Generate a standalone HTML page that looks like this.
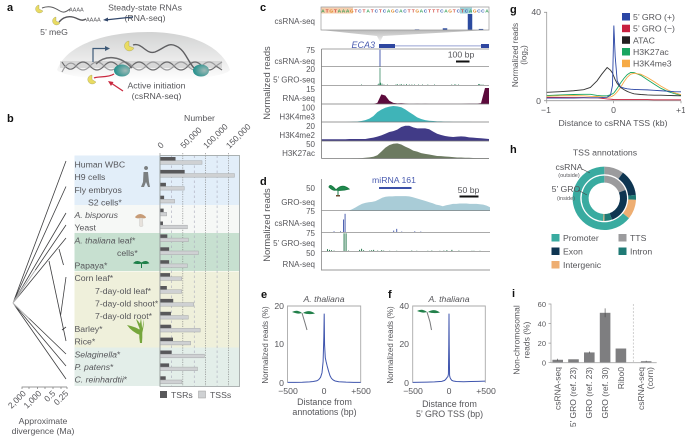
<!DOCTYPE html>
<html lang="en">
<head>
<meta charset="utf-8">
<title>Figure: csRNA-seq TSS panels</title>
<style>
html,body{margin:0;padding:0;background:#fff;width:685px;height:436px;overflow:hidden}
svg{display:block}
text{font-family:"Liberation Sans",sans-serif;fill:#56565a;font-size:8px}
.ltr{font-weight:bold;font-size:11px;fill:#111}
.lab{font-size:8.7px}
.trk{font-size:8px}
.t7{font-size:7.5px}
.rot{font-size:8.5px}
.sm{font-size:5.5px}
.end{text-anchor:end}
.mid{text-anchor:middle}
.it{font-style:italic}
</style>
</head>
<body>
<svg id="fig" xmlns="http://www.w3.org/2000/svg" width="685" height="436" viewBox="0 0 685 436">
<defs>
<linearGradient id="domeGrad" x1="0" y1="0" x2="0" y2="1"><stop offset="0" stop-color="#d2d3d3"/><stop offset=".65" stop-color="#eeeeee"/><stop offset="1" stop-color="#ffffff"/></linearGradient>
<linearGradient id="funnelGrad" x1="0" y1="0" x2="0" y2="1"><stop offset="0" stop-color="#b9b9b9"/><stop offset="1" stop-color="#f4f4f4"/></linearGradient>
<radialGradient id="polGrad" cx=".7" cy=".5" r=".7"><stop offset="0" stop-color="#9fb9b6"/><stop offset="1" stop-color="#1f8f8b"/></radialGradient>
</defs>

<!-- Panel a -->
<g>
<text class="ltr" x="7" y="11">a</text>
<path d="M57,70 C66,45 105,32 148,32 C190,32 222,46 230,70 C220,84 70,84 57,70Z" fill="url(#domeGrad)"/>
<rect x="60" y="61" width="162" height="7" fill="#c8c8c8" opacity=".6"/>
<path d="M62,62 Q69,74 76,66 T90,66 T104,66 T118,66 T132,66 T146,66 T160,66 T174,66 T188,66 T202,66 T216,66 L222,70" fill="none" stroke="#6a6a6c" stroke-width="1.2"/>
<path d="M62,72 Q69,58 76,66 T90,66 T104,66 T118,66 T132,66 T146,66 T160,66 T174,66 T188,66 T202,66 T216,66 L222,62" fill="none" stroke="#9a9a9c" stroke-width="1.2"/>
<path d="M42,8 C50,5 55,8 60,11 C65,14 68,10 70,9" fill="none" stroke="#5a5a5c" stroke-width="1"/>
<path d="M59,22 C65,15 72,16 78,19 C82,21 84,20 86,19" fill="none" stroke="#55555a" stroke-width="1.4"/>
<path d="M39,5 A4,4 0 1 0 43,11 L39,9Z" fill="#e9db62" stroke="#8a8a50" stroke-width=".3"/>
<path d="M56,17 A4,4 0 1 0 60,23 L56,21Z" fill="#e9db62" stroke="#8a8a50" stroke-width=".3"/>
<text x="69" y="11.5" style="font-size:5.5px">AAAA</text>
<text x="86" y="21.5" style="font-size:5.5px">AAAA</text>
<text x="54" y="35" class="mid lab">5’ meG</text>
<text x="145" y="10.5" class="mid lab">Steady-state RNAs</text>
<text x="145" y="21" class="mid lab">(RNA-seq)</text>
<path d="M133,17 L105,20" stroke="#33486b" stroke-width="1.2" fill="none"/>
<path d="M103,20 L108,17.5 L108,21.5Z" fill="#33486b"/>
<path d="M93,62 L93,48.5 L107,48.5" stroke="#3e5a78" stroke-width="1.2" fill="none"/>
<path d="M110,48.5 L105,46 L105,51Z" fill="#3e5a78"/>
<path d="M96,64 C105,55 120,55 132,68" fill="none" stroke="#6a6a6c" stroke-width="1.5"/>
<path d="M133,45 C142,42 146,55 155,52 C165,48 168,42 176,46 C185,50 187,60 194,68" fill="none" stroke="#5f5f62" stroke-width="1.4"/>
<path d="M129,41 A5,5 0 1 0 134,48 L129,46Z" fill="#e9db62" stroke="#8a8a50" stroke-width=".3"/>
<ellipse cx="122" cy="70.5" rx="8" ry="6" fill="url(#polGrad)"/>
<ellipse cx="201" cy="70.5" rx="8" ry="6" fill="url(#polGrad)"/>
<path d="M94,78 C98,76 108,78 114,74" fill="none" stroke="#c9283f" stroke-width="1.2"/>
<path d="M92,75 A4.5,4.5 0 1 0 96,82 L92,79.5Z" fill="#e9db62" stroke="#8a8a50" stroke-width=".3"/>
<path d="M123,91 L111,83" stroke="#c9283f" stroke-width="1.2" fill="none"/>
<path d="M108,81 L113.5,82 L111,86Z" fill="#c9283f"/>
<text x="156.5" y="88.5" class="mid lab">Active initiation</text>
<text x="156.5" y="99" class="mid lab">(csRNA-seq)</text>
</g>

<!-- Panel b static -->
<g>
<text class="ltr" x="7" y="122">b</text>
<text x="199.5" y="121" class="mid lab">Number</text>
<rect x="74.5" y="155.5" width="165" height="49.5" fill="#e2eef9"/>
<rect x="74.5" y="205" width="165" height="28" fill="#f6f8f6"/>
<rect x="74.5" y="233" width="165" height="38" fill="#c7e0d0"/>
<rect x="74.5" y="271.5" width="165" height="76" fill="#eff0db"/>
<rect x="74.5" y="347.5" width="165" height="38.5" fill="#e3eee9"/>
<g id="bGrid"></g>
<g id="bBars"></g>
<rect x="160" y="155.5" width="79.5" height="231" fill="none" stroke="#9aa0a0" stroke-width=".8"/>
<g>
<text class="lab" x="74.5" y="167.5">Human WBC</text>
<text class="lab" x="74.5" y="180">H9 cells</text>
<text class="lab" x="74.5" y="193">Fly embryos</text>
<text class="lab" x="88" y="205.5">S2 cells*</text>
<text class="lab it" x="74.5" y="218">A. bisporus</text>
<text class="lab" x="74.5" y="230.5">Yeast</text>
<text class="lab" x="74.5" y="243.5"><tspan font-style="italic">A. thaliana</tspan> leaf*</text>
<text class="lab" x="117" y="256">cells*</text>
<text class="lab" x="74.5" y="268.5">Papaya*</text>
<text class="lab" x="74.5" y="281">Corn leaf*</text>
<text class="lab" x="95" y="294">7-day-old leaf*</text>
<text class="lab" x="95" y="306.5">7-day-old shoot*</text>
<text class="lab" x="95" y="319">7-day-old root*</text>
<text class="lab" x="74.5" y="332">Barley*</text>
<text class="lab" x="74.5" y="344.5">Rice*</text>
<text class="lab it" x="74.5" y="357.5">Selaginella<tspan font-style="normal">*</tspan></text>
<text class="lab it" x="74.5" y="370">P. patens<tspan font-style="normal">*</tspan></text>
<text class="lab it" x="74.5" y="382.5">C. reinhardtii<tspan font-style="normal">*</tspan></text>
</g>
<path d="M146,170 a2,2 0 1 1 .1,0 M143.5,172 L148,172 L149,182 L150,187 L148,187 L146,182 L144,187 L141,187 L143,182Z" fill="#7b7f80"/>
<path d="M135,217 Q140,211 146,217 Q146,219 141,218 Q136,219 135,217Z" fill="#c79c77"/>
<path d="M139.5,218 L142.5,218 L143,226 Q141,227.5 139.5,226Z" fill="#e7e2dc" stroke="#bbb" stroke-width=".3"/>
<path d="M141.5,268 L141.5,263 M141.5,263 Q137,260 134,263 Q138,264 141.5,263 Q146,260 148.5,263 Q145,264 141.5,263" fill="#1f8a4d" stroke="#1a7a44" stroke-width="1"/>
<path d="M140,343 Q138,332 141,318 Q143,332 142,343Z M140,335 Q132,332 127,325 Q136,327 140,330Z M141,332 Q138,325 136,319 Q141,323 142,330Z M141,332 Q143,326 144,319 Q144,326 142,334Z" fill="#76a63c"/>
<path d="M66,161 L13,303 M66,186.5 L13,303 M66,213 L13,303 M66,225 L13,303 M66,238 L13,303 M59,249 L63.5,265 M49,261 L66,341 M66,277 L60.5,316 M66,327 L62,330 M66,354 L13,303 M66,366 L13,303 M66,379 L13,303" fill="none" stroke="#3e3e40" stroke-width=".8"/>
<path d="M13,303 L35,270" fill="none" stroke="#fff" stroke-width="2" opacity=".55"/>
<path d="M13,303 L30,318" fill="none" stroke="#fff" stroke-width="2" opacity=".55"/>
<path d="M22,389 L22,387 L67,387 M29,387 v2 M37.5,387 v2 M45,387 v2 M53,387 v2 M61,387 v2 M67,387 v2" fill="none" stroke="#777" stroke-width=".7"/>
<text transform="translate(26.5,394) rotate(-45)" class="end rot">2,000</text>
<text transform="translate(42,394) rotate(-45)" class="end rot">1,000</text>
<text transform="translate(56,394) rotate(-45)" class="end rot">0.5</text>
<text transform="translate(69,394) rotate(-45)" class="end rot">0.25</text>
<text x="43" y="424" class="mid lab">Approximate</text>
<text x="43" y="434" class="mid lab">divergence (Ma)</text>
<rect x="160" y="391" width="7" height="7" fill="#58585a"/>
<text x="171" y="398" class="lab">TSRs</text>
<rect x="198.5" y="391" width="7" height="7" fill="#cfd1d3" stroke="#999" stroke-width=".5"/>
<text x="210" y="398" class="lab">TSSs</text>
</g>

<!-- Panel c static -->
<g>
<text class="ltr" x="260" y="11">c</text>
<polygon points="321,30 489,30 383,36 380,42 377,36" fill="url(#funnelGrad)"/>
<rect x="321" y="7.5" width="32" height="6" fill="#f7cfae"/>
<rect x="460" y="7.5" width="12" height="6" fill="#9fd3d8"/>
<g id="seq"></g>
<g id="cZoom"></g>
<path d="M321,7 H489 V30 H321Z" fill="none" stroke="#999" stroke-width=".7"/>
<text x="315" y="24" class="end trk">csRNA-seq</text>
<text x="375" y="48" class="end it" style="font-size:9px;fill:#4a5cb0">ECA3</text>
<rect x="379" y="44" width="16" height="4" fill="#2f47a0"/>
<rect x="395" y="45.5" width="86" height=".8" fill="#7c8bc8"/>
<rect x="481" y="44" width="8" height="4" fill="#2f47a0"/>
<g id="cTracks"></g>
<path d="M321.5,49 V158.5" stroke="#777" stroke-width=".8" fill="none"/>
<path d="M321.5,49 H489" stroke="#888" stroke-width=".8" fill="none"/>
<text x="315" y="53" class="end trk">75</text>
<text x="315" y="72" class="end trk">20</text>
<text x="315" y="92" class="end trk">15</text>
<text x="315" y="110.5" class="end trk">100</text>
<text x="315" y="129" class="end trk">20</text>
<text x="315" y="147" class="end trk">50</text>
<text x="315" y="64" class="end trk">csRNA-seq</text>
<text x="315" y="82.5" class="end trk">5’ GRO-seq</text>
<text x="315" y="101" class="end trk">RNA-seq</text>
<text x="315" y="119.5" class="end trk">H3K4me3</text>
<text x="315" y="138" class="end trk">H3K4me2</text>
<text x="315" y="156" class="end trk">H3K27ac</text>
<text transform="translate(270,83) rotate(-90)" class="mid" style="font-size:9.4px">Normalized reads</text>
<text x="461" y="57.5" class="mid lab">100 bp</text>
<rect x="456" y="60.5" width="13.5" height="2" fill="#111"/>
</g>

<!-- Panel d static -->
<g>
<text class="ltr" x="260" y="185">d</text>
<text x="394" y="183" class="mid lab" style="fill:#4a5cb0">miRNA 161</text>
<rect x="379" y="187" width="32.5" height="2" fill="#3b50a8"/>
<text x="468.5" y="193" class="mid lab">50 bp</text>
<rect x="459.5" y="195.5" width="19" height="2" fill="#111"/>
<g id="dTracks"></g>
<path d="M321.5,179 V270.5" stroke="#888" stroke-width=".8" fill="none"/>
<path d="M336,190 Q330,183 329,187 Q333,191 336,190 M336,190 Q342,183 349,189 Q342,191 336,190 M338,190 V196" fill="#1f8a4d" stroke="#1a7a44" stroke-width="1"/>
<rect x="336" y="195" width="4" height="1.5" fill="#6d4b30"/>
<text x="315" y="191" class="end trk">50</text>
<text x="315" y="205" class="end trk">GRO-seq</text>
<text x="315" y="214" class="end trk">75</text>
<text x="315" y="226" class="end trk">csRNA-seq</text>
<text x="315" y="236" class="end trk">75</text>
<text x="315" y="246" class="end trk">5’ GRO-seq</text>
<text x="315" y="256" class="end trk">50</text>
<text x="315" y="267" class="end trk">RNA-seq</text>
<text transform="translate(270,225) rotate(-90)" class="mid" style="font-size:9.4px">Normalized reads</text>
</g>

<!-- Panels e f -->
<g>
<text class="ltr" x="261" y="298">e</text>
<text x="324" y="302" class="mid it lab">A. thaliana</text>
<path d="M287.5,382.7 V306 H360.7 V382.7" fill="none" stroke="#aaa" stroke-width=".9"/>
<path d="M292,312 Q297,309 302,313 Q298,314.5 292,312Z M303,313 Q309,309 315,313.5 Q309,315 303,313Z" fill="#22804a"/>
<path d="M302,313 L305,323 L307,330" fill="none" stroke="#77787a" stroke-width="1"/>
<g id="ePlot"></g>
<text x="284" y="309" class="end lab">20</text>
<text x="284" y="347" class="end lab">10</text>
<text x="284" y="386" class="end lab">0</text>
<text x="288" y="394" class="mid lab">−500</text>
<text x="324" y="394" class="mid lab">0</text>
<text x="361" y="394" class="mid lab">+500</text>
<text x="324.5" y="405" class="mid" style="font-size:8.9px">Distance from</text>
<text x="324.5" y="415" class="mid" style="font-size:8.9px">annotations (bp)</text>
<text transform="translate(268,345) rotate(-90)" class="mid" style="font-size:8px">Normalized reads (%)</text>
</g>
<g>
<text class="ltr" x="388" y="298">f</text>
<text x="449" y="302" class="mid it lab">A. thaliana</text>
<path d="M412.7,382.7 V306 H485.3 V382.7" fill="none" stroke="#aaa" stroke-width=".9"/>
<path d="M417,311 Q422,308 427,312 Q423,313.5 417,311Z M428,312 Q434,308 440,312.5 Q434,314 428,312Z" fill="#22804a"/>
<path d="M427,312 L430,322 L431.5,330" fill="none" stroke="#77787a" stroke-width="1"/>
<g id="fPlot"></g>
<text x="409" y="309" class="end lab">40</text>
<text x="409" y="347" class="end lab">20</text>
<text x="409" y="386" class="end lab">0</text>
<text x="413" y="394" class="mid lab">−500</text>
<text x="449" y="394" class="mid lab">0</text>
<text x="486" y="394" class="mid lab">+500</text>
<text x="449.5" y="407" class="mid" style="font-size:8.9px">Distance from</text>
<text x="449.5" y="417" class="mid" style="font-size:8.9px">5’ GRO TSS (bp)</text>
<text transform="translate(393,345) rotate(-90)" class="mid" style="font-size:8px">Normalized reads (%)</text>
</g>

<!-- Panel g -->
<g>
<text class="ltr" x="510" y="13">g</text>
<path d="M544,12.3 H546.7 V100.7 H681 M613.5,100.7 v2.5 M546.7,100.7 v2.5 M681,100.7 v2.5 M544,100.7 h2.7" fill="none" stroke="#999" stroke-width=".8"/>
<g id="gPlot"></g>
<text x="541" y="15" class="end lab">40</text>
<text x="541" y="104" class="end lab">0</text>
<text x="546" y="113" class="mid lab">−1</text>
<text x="613.5" y="113" class="mid lab">0</text>
<text x="681" y="113" class="mid lab">+1</text>
<text x="613" y="126" class="mid lab">Distance to csRNA TSS (kb)</text>
<text transform="translate(518,55) rotate(-90)" class="mid" style="font-size:8.2px">Normalized reads</text>
<text transform="translate(526.5,55) rotate(-90)" class="mid" style="font-size:8.2px">(log<tspan style="font-size:5.5px" dy="1.5">2</tspan><tspan dy="-1.5">)</tspan></text>
<g>
<rect x="622" y="13" width="8" height="7.5" fill="#2b46a5"/>
<text x="633" y="20" class="lab">5’ GRO (+)</text>
<rect x="622" y="24.7" width="8" height="7.5" fill="#c8203f"/>
<text x="633" y="31.7" class="lab">5’ GRO (−)</text>
<rect x="622" y="36.3" width="8" height="7.5" fill="#231f20"/>
<text x="633" y="43.3" class="lab">ATAC</text>
<rect x="622" y="48" width="8" height="7.5" fill="#19a560"/>
<text x="633" y="55" class="lab">H3K27ac</text>
<rect x="622" y="59.7" width="8" height="7.5" fill="#f6aa45"/>
<text x="633" y="66.7" class="lab">H3K4me3</text>
</g>
</g>

<!-- Panel h -->
<g>
<text class="ltr" x="510" y="153">h</text>
<text x="605" y="155.5" class="mid lab">TSS annotations</text>
<g id="hPlot"></g>
<text x="569" y="170" class="mid lab">csRNA</text>
<text x="569" y="177" class="mid sm">(outside)</text>
<text x="566" y="192" class="mid lab">5’ GRO</text>
<text x="566" y="200" class="mid sm">(inside)</text>
<path d="M582,169 L590,173 M578,190 L587,195" stroke="#444" stroke-width=".6" fill="none"/>
<rect x="551.5" y="234" width="8" height="7.5" fill="#39aba0"/>
<text x="563" y="241" class="lab">Promoter</text>
<rect x="551.5" y="247.5" width="8" height="7.5" fill="#0e3551"/>
<text x="563" y="254.5" class="lab">Exon</text>
<rect x="551.5" y="261" width="8" height="7.5" fill="#eeae72"/>
<text x="563" y="268" class="lab">Intergenic</text>
<rect x="618.5" y="234" width="8" height="7.5" fill="#9b9b9d"/>
<text x="630" y="241" class="lab">TTS</text>
<rect x="618.5" y="247.5" width="8" height="7.5" fill="#1f7a75"/>
<text x="630" y="254.5" class="lab">Intron</text>
</g>

<!-- Panel i -->
<g>
<text class="ltr" x="512" y="297">i</text>
<path d="M548.5,304 H551 V362.7 M548.5,323.6 H551 M548.5,343.1 H551 M548.5,362.7 H551" fill="none" stroke="#999" stroke-width=".7"/>
<g id="iPlot"></g>
<path d="M633.3,304 V362" stroke="#bbb" stroke-width=".7" stroke-dasharray="2 1.5" fill="none"/>
<text x="546" y="307" class="end t7">60</text>
<text x="546" y="326.3" class="end t7">40</text>
<text x="546" y="346" class="end t7">20</text>
<text x="546" y="365.5" class="end t7">0</text>
<text transform="translate(519.5,340) rotate(-90)" class="mid rot">Non-chromosomal</text>
<text transform="translate(529.5,340) rotate(-90)" class="mid rot">reads (%)</text>
<text transform="translate(560.5,367) rotate(-90)" class="end rot">csRNA-seq</text>
<text transform="translate(576,367) rotate(-90)" class="end rot">5’ GRO (ref. 23)</text>
<text transform="translate(592,367) rotate(-90)" class="end rot">GRO (ref. 23)</text>
<text transform="translate(608,367) rotate(-90)" class="end rot">GRO (ref. 30)</text>
<text transform="translate(624,367) rotate(-90)" class="end rot">Ribo0</text>
<text transform="translate(644,367) rotate(-90)" class="end rot">csRNA-seq</text>
<text transform="translate(653,367) rotate(-90)" class="end rot">(corn)</text>
</g>
</svg>

<script>
// ---------- Panel b data ----------
var bTicks = [0, 50000, 100000, 150000];
var bTickLabels = ['0', '50,000', '100,000', '150,000'];
var bDashTicks = [25000, 75000, 125000];
var tsrCounts = [34000, 54000, 13000, 9000, 8000, 6500, 16000, 20000, 20000, 22000, 15000, 29000, 24000, 24000, 28500, 25500, 20000, 12500];
var tssCounts = [92000, 163000, 53000, 32000, 14500, 60000, 62000, 84000, 60000, 47500, 47500, 74000, 62000, 88000, 67000, 97000, 82000, 48000];

// ---------- Panel c data (binned coverage) ----------
var cZoomPositions = [96, 124, 149, 160];
var cZoomReads = [3, 8, 75, 5];
var seqString = 'ATGTAAAGTCTATCTCAGCACTTGACTTTCAGTCTCAGCCA';
var cCsrnaPositions = [440];
var cCsrnaReads = [75];
var cGroPositions = [440, 445, 455, 432, 425, 300, 470, 495, 560, 570, 590, 600, 620, 640, 660, 680, 700, 730, 760, 980, 1000, 1010, 1030, 800, 850, 1180, 1190, 1200, 1215];
var cGroReads = [20, 3, 2, 2, 1, 1, 1, 1, 1, 1.5, 1, 1.5, 1, 1.5, 1, 1, 1, 1, 1, 1, 1, 1, 1, 1, 1, 1.5, 1.5, 1, 1];
var cRnaBins = [0,0,0,0,0,0,0,0,0,0,0,0,0,0,1,9,8,3,1,.6,.7,.5,.1,.1,.2,.1,.2,.1,.1,.1,.1,.1,.1,.1,.1,.1,.2,.3,.4,.4,.8,15,15];
var cMe3Bins = [0,0,0,0,0,0,0,1,2,3,6,12,21,37,62,77,89,96,100,98,92,79,62,46,29,19,12,8,6,4,4,2,2,1,1,1,1,1,0,0,0,0,0];
var cMe2Bins = [1.9,1.9,1.9,1.9,1.9,1.9,1.9,2.2,2.2,2.2,2.2,2.2,3,3.7,4.8,6.3,8.1,10,11,12.6,15.5,17,17,15.2,14,14,14,13,10.4,8.1,6.7,5.6,4.8,4.4,4.8,5.2,4.8,4,3.7,3.3,3,2.6,2.2];
var cK27Bins = [0,0,0,0,0,0,0,0,.5,.5,1,2,3,5,9,19,30,37,41,42,39,33,28,22,19,15,13,11,9,7,6.5,5.6,4.7,3.7,2.8,2.8,2,2,1.5,1,1,1,1];

// ---------- Panel d data ----------
var dGroBins = [0,0,0,0,0,0,0,0,0,4,9,15,20,23,25,26,28,33,38,41,42,42,43,43,43,43,42,40,37,34,31,28,25,22,18,16,13,16,18,20,20,21,21,21,20,20,20,19,18,15,10];
var dCsrnaPositions = [125, 190, 220, 235, 720, 750, 800, 930, 990];
var dCsrnaReads = [4, 4, 52, 75, 7, 14, 3, 4, 3];
var dGroPositions = [60, 80, 100, 125, 225, 245, 270, 380, 400, 420, 480, 500, 520, 560, 600, 620, 680, 750, 900, 950, 1060, 1100, 1180, 1220, 1250, 1300, 1370, 1500, 1520, 1580];
var dGroReads = [6, 4, 3, 2, 50, 50, 2, 4, 7, 3, 2, 3, 4, 2, 3, 2, 1.5, 1.5, 2, 1.5, 1.5, 2, 1.5, 2, 3, 4, 2, 1.5, 1.5, 1.5];

// ---------- Panels e, f data ----------
var eOffsets = [-500, -400, -300, -200, -150, -100, -75, -50, -30, -15, -5, 0, 5, 15, 25, 40, 60, 80, 100, 125, 150, 200, 300, 400, 500];
var eReads = [0.08, 0.1, 0.12, 0.2, 0.3, 0.5, 0.8, 1.4, 2.6, 5.5, 12, 18, 10, 6.5, 5.6, 4.4, 3, 1.8, 1.1, 0.7, 0.45, 0.25, 0.15, 0.1, 0.08];
var fOffsets = [-500, -400, -300, -200, -100, -60, -40, -25, -15, -8, -3, 0, 3, 8, 15, 25, 40, 60, 100, 200, 300, 400, 500];
var fReads = [0.2, 0.25, 0.3, 0.4, 0.7, 1.2, 2, 2.8, 3.2, 4.5, 20, 36, 20, 3.8, 2.6, 1.9, 1.2, 0.9, 0.6, 0.5, 0.6, 0.7, 0.8];

// ---------- Panel g data ----------
var gDistance = [-1, -0.8, -0.6, -0.45, -0.35, -0.25, -0.18, -0.1, -0.05, -0.02, 0, 0.02, 0.05, 0.1, 0.15, 0.2, 0.25, 0.3, 0.4, 0.5, 0.6, 0.7, 0.8, 0.9, 1];
var gro5Plus = [1.2, 1.2, 1.2, 1.3, 1.3, 1.3, 1.4, 1.6, 2.5, 7, 34, 20, 9, 6.2, 5.7, 5.4, 5.2, 5.1, 5, 4.9, 4.7, 4.5, 4.3, 4.1, 4];
var gro5Minus = [1.5, 1.5, 1.4, 1.4, 1.3, 1.3, 1.1, 0.8, 0.7, 0.6, 0.5, 0.5, 0.5, 0.5, 0.5, 0.5, 0.5, 0.5, 0.5, 0.5, 0.4, 0.4, 0.4, 0.4, 0.4];
var atacReads = [3.8, 4.1, 4.5, 5, 6, 9, 12, 15, 13.8, 12.5, 11, 9.5, 7.8, 6, 5, 4.2, 3.6, 3.1, 2.8, 2.6, 2.5, 2.5, 2.4, 2.3, 2.2];
var k27Reads = [2.3, 2.6, 2.8, 2.9, 2.9, 2.4, 2.2, 2.2, 2.7, 3.1, 3.5, 4.3, 5.6, 8, 10.1, 11.8, 12.8, 12.7, 11.5, 9.5, 7.5, 5.6, 4.2, 3.2, 2.4];
var me3Reads = [2, 2.2, 2.3, 2.2, 2, 1.9, 1.7, 1.5, 1.7, 2.1, 2.5, 3, 4, 6, 8.5, 10.6, 12, 12.4, 12, 10.5, 8.6, 6.6, 4.9, 3.6, 2.7];

// ---------- Panel h data ----------
var hCategories = ['tts', 'exon', 'intron', 'intergenic', 'promoter'];
var hOuter = [10, 13.3, 2.5, 10, 64.2];
var hInner = [19, 25.5, 5.5, 0.8, 49.2];

// ---------- Panel i data ----------
var iCategories = ['csrna-seq', 'gro5-ref23', 'gro-ref23', 'gro-ref30', 'ribo0', 'csrna-corn'];
var iSlots = [0, 1, 2, 3, 4, 5.6];
var iReads = [3, 3.5, 10.5, 51, 14.5, 1.5];
var iErrors = [1, 0, 1, 4.5, 0, 0.5];

var NS = 'http://www.w3.org/2000/svg';
function make(tag, attrs, parent) {
  var el = document.createElementNS(NS, tag);
  for (var k in attrs) el.setAttribute(k, attrs[k]);
  parent.appendChild(el);
  return el;
}
function $(id) { return document.getElementById(id); }

// Panel b
function xB(v) { return 160 + v / 150000 * 68.5; }
bTicks.forEach(function (t, i) {
  var ln = make('line', {x1: xB(t), x2: xB(t), y1: 153, y2: 386, stroke: '#777', 'stroke-width': .6, 'stroke-dasharray': i ? '1.2 1.2' : 'none'}, $('bGrid'));
  
  
  var lb = make('text', {transform: 'translate(' + (xB(t) + 1) + ',149) rotate(-45)', 'style': 'font-size:8.5px'}, $('bGrid'));
  lb.textContent = bTickLabels[i];
  
  
});
bDashTicks.forEach(function (t) {
  var ln = make('line', {x1: xB(t), x2: xB(t), y1: 155.5, y2: 386, stroke: '#aab', 'stroke-width': .6, 'stroke-dasharray': '2.5 2.5'}, $('bGrid'));
  
  
});
tsrCounts.forEach(function (v, i) {
  var y = 157 + i * 12.9;
  var r = make('rect', {x: 160, y: y, width: xB(v) - 160, height: 3.7, fill: '#58585a'}, $('bBars'));
  
  
  var s = make('rect', {x: 160, y: y + 3.7, width: xB(tssCounts[i]) - 160, height: 3.6, fill: '#cfd1d3', stroke: '#a6a8aa', 'stroke-width': .5}, $('bBars'));
  
  
});

// Sequence letters
var seqColors = {A: '#2f9e55', T: '#d1413a', C: '#3a62b5', G: '#e08a2c'};
seqString.split('').forEach(function (c, i) {
  var t = make('text', {x: 323 + i * 4.1, y: 12.5, 'text-anchor': 'middle', style: 'font-size:4.8px;font-weight:bold;fill:' + seqColors[c]}, $('seq'));
  t.textContent = c;
  
  
});

// Generic tracks
function areaPath(values, x0, x1, base, h, yMax) {
  var n = values.length - 1, d = 'M' + x0 + ',' + base;
  values.forEach(function (v, i) {
    d += ' L' + (x0 + (x1 - x0) * i / n).toFixed(2) + ',' + (base - v / yMax * h).toFixed(2);
  });
  return d + ' L' + x1 + ',' + base + 'Z';
}
function baseline(parent, x0, x1, y) {
  var l = make('line', {x1: x0, x2: x1, y1: y, y2: y, stroke: '#777', 'stroke-width': .7}, parent);
  
  
}
function spikes(parent, positions, reads, span, x0, x1, base, h, yMax, color, w) {
  positions.forEach(function (p, i) {
    var x = x0 + p / span * (x1 - x0);
    var r = make('rect', {x: x - w / 2, y: base - Math.min(reads[i], yMax) / yMax * h, width: w, height: Math.min(reads[i], yMax) / yMax * h, fill: color}, parent);
    
    
  });
}

// Panel c zoomed window
spikes($('cZoom'), cZoomPositions, cZoomReads, 168, 321, 489, 30, 16, 75, '#2b4a9f', 4.5);

// Panel c tracks
var cx0 = 321.5, cx1 = 489;
var cSpan = 1260;
spikes($('cTracks'), cCsrnaPositions, cCsrnaReads, cSpan, cx0, cx1, 66.7, 17, 75, '#3b50a8', .9);
baseline($('cTracks'), cx0, cx1, 66.7);
spikes($('cTracks'), cGroPositions, cGroReads, cSpan, cx0, cx1, 85.3, 17.5, 20, '#1c7a4f', .7);
baseline($('cTracks'), cx0, cx1, 85.3);
var cA1 = make('path', {d: areaPath(cRnaBins, cx0, cx1, 104, 16, 15), fill: '#5c0a3c'}, $('cTracks'));


baseline($('cTracks'), cx0, cx1, 104);
var cA2 = make('path', {d: areaPath(cMe3Bins, cx0, cx1, 122, 16, 100), fill: '#3fb4b8'}, $('cTracks'));


baseline($('cTracks'), cx0, cx1, 122);
var cA3 = make('path', {d: areaPath(cMe2Bins, cx0, cx1, 141, 18, 20), fill: '#413b87'}, $('cTracks'));


baseline($('cTracks'), cx0, cx1, 141);
var cA4 = make('path', {d: areaPath(cK27Bins, cx0, cx1, 158.5, 18, 50), fill: '#6c7a60'}, $('cTracks'));


baseline($('cTracks'), cx0, cx1, 158.5);

// Panel d tracks
var dx0 = 321.5, dx1 = 490, dSpan = 1680;
var dA = make('path', {d: areaPath(dGroBins, dx0, dx1, 210.7, 17, 50), fill: '#a9ccd7'}, $('dTracks'));


baseline($('dTracks'), dx0, dx1, 210.7);
spikes($('dTracks'), dCsrnaPositions, dCsrnaReads, dSpan, dx0, dx1, 232.3, 18.5, 75, '#3b50a8', .9);
baseline($('dTracks'), dx0, dx1, 232.3);
spikes($('dTracks'), dGroPositions, dGroReads, dSpan, dx0, dx1, 251.3, 18, 50, '#136b3c', .9);
baseline($('dTracks'), dx0, dx1, 251.3);
baseline($('dTracks'), dx0, dx1, 270);

// Line helper
function linePath(xs, ys, xScale, yScale) {
  return xs.map(function (x, i) {
    return (i ? 'L' : 'M') + xScale(x).toFixed(2) + ',' + yScale(ys[i]).toFixed(2);
  }).join(' ');
}

// Panel e
function xE(v) { return 287.7 + (v + 500) / 1000 * 73; }
function yE(v) { return 382.7 - v / 20 * 76.7; }
var eL = make('path', {d: linePath(eOffsets, eReads, xE, yE), fill: 'none', stroke: '#3f55ad', 'stroke-width': 1}, $('ePlot'));



// Panel f
function xF(v) { return 412.7 + (v + 500) / 1000 * 72.6; }
function yF(v) { return 382.7 - v / 40 * 76.7; }
var fL = make('path', {d: linePath(fOffsets, fReads, xF, yF), fill: 'none', stroke: '#3f55ad', 'stroke-width': 1}, $('fPlot'));



// Panel g
function xG(v) { return 546.7 + (v + 1) / 2 * 134.3; }
function yG(v) { return 100.7 - v / 40 * 88.4; }
var gL1 = make('path', {d: linePath(gDistance, k27Reads, xG, yG), fill: 'none', stroke: '#19a560', 'stroke-width': .9}, $('gPlot'));


var gL2 = make('path', {d: linePath(gDistance, me3Reads, xG, yG), fill: 'none', stroke: '#f6aa45', 'stroke-width': .9}, $('gPlot'));


var gL3 = make('path', {d: linePath(gDistance, gro5Minus, xG, yG), fill: 'none', stroke: '#c8203f', 'stroke-width': .9}, $('gPlot'));


var gL4 = make('path', {d: linePath(gDistance, atacReads, xG, yG), fill: 'none', stroke: '#333', 'stroke-width': .9}, $('gPlot'));


var gL5 = make('path', {d: linePath(gDistance, gro5Plus, xG, yG), fill: 'none', stroke: '#2b46a5', 'stroke-width': .9}, $('gPlot'));



// Panel h
var hColors = {tts: '#9b9b9d', exon: '#0e3551', intron: '#1f7a75', intergenic: '#eeae72', promoter: '#39aba0'};
function ring(values, rOut, rIn) {
  var total = values.reduce(function (a, b) { return a + b; }, 0), acc = 0;
  var cx = 604.3, cy = 198.3;
  values.forEach(function (v, i) {
    var a0 = acc / total * 2 * Math.PI;
    acc += v;
    var a1 = acc / total * 2 * Math.PI;
    var large = a1 - a0 > Math.PI ? 1 : 0;
    function pt(r, a) { return (cx + r * Math.sin(a)).toFixed(2) + ',' + (cy - r * Math.cos(a)).toFixed(2); }
    var d = 'M' + pt(rOut, a0) + ' A' + rOut + ',' + rOut + ' 0 ' + large + ' 1 ' + pt(rOut, a1) +
      ' L' + pt(rIn, a1) + ' A' + rIn + ',' + rIn + ' 0 ' + large + ' 0 ' + pt(rIn, a0) + 'Z';
    var p = make('path', {d: d, fill: hColors[hCategories[i]]}, $('hPlot'));
    
    
  });
}
ring(hOuter, 31.7, 24);
ring(hInner, 22.7, 15.7);

// Panel i
function xI(s) { return 557.7 + s * 15.8; }
function yI(v) { return 362.7 - v / 60 * 58.7; }
iReads.forEach(function (v, i) {
  var cx = xI(iSlots[i]);
  var r = make('rect', {x: cx - 5.3, y: yI(v), width: 10.6, height: 362.7 - yI(v), fill: '#7e7e80'}, $('iPlot'));
  
  
  if (iErrors[i] > 0) {
    var e = make('line', {x1: cx, x2: cx, y1: yI(v + iErrors[i]), y2: yI(v - iErrors[i]), stroke: '#444', 'stroke-width': .6}, $('iPlot'));
    
    
  }
});
var iBase = make('line', {x1: 551, x2: 656.7, y1: yI(0), y2: yI(0), stroke: '#aaa', 'stroke-width': .8}, $('iPlot'));


</script>
</body>
</html>
